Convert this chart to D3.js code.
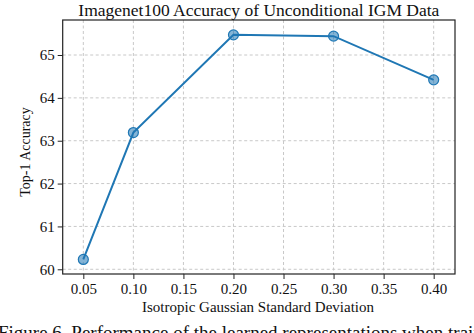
<!DOCTYPE html>
<html>
<head>
<meta charset="utf-8">
<script src="https://cdn.jsdelivr.net/npm/d3@7"></script>
<style>
  html, body { margin: 0; padding: 0; background: #fff; overflow: hidden; }
  svg { display: block; }
  text { font-family: "Liberation Serif", "DejaVu Serif", serif; fill: #111; }
</style>
</head>
<body>
<svg id="chart" width="474" height="333"></svg>
<script>
// Top-1 accuracy vs. noise std of isotropic Gaussian
const sigmas = [0.05, 0.10, 0.20, 0.30, 0.40];
const accuracy = [60.23, 63.19, 65.47, 65.44, 64.42];
const xTicks = [0.05, 0.10, 0.15, 0.20, 0.25, 0.30, 0.35, 0.40];
const yTicks = [60, 61, 62, 63, 64, 65];

const titleText = "Imagenet100 Accuracy of Unconditional IGM Data";
const xLabel = "Isotropic Gaussian Standard Deviation";
const yLabel = "Top-1 Accuracy";
const captionText = "Figure 6. Performance of the learned representations when trained on";

const W = 474, H = 333;
const plot = { left: 62.7, right: 455, top: 20, bottom: 274 };
const blue = "#1f77b4";

const svg = d3.select("#chart");

const x = d3.scaleLinear().domain([0.0294, 0.4213]).range([plot.left, plot.right]);
const y = d3.scaleLinear().domain([59.89, 65.817]).range([plot.bottom, plot.top]);

// grid
const grid = svg.append("g").attr("stroke", "#c8c8c8").attr("stroke-width", 1)
  .attr("stroke-dasharray", "3,2.5");
grid.selectAll("line.gx").data(xTicks).join("line")
  .attr("x1", d => x(d)).attr("x2", d => x(d))
  .attr("y1", plot.top).attr("y2", plot.bottom);
grid.selectAll("line.gy").data(yTicks).join("line")
  .attr("y1", d => y(d)).attr("y2", d => y(d))
  .attr("x1", plot.left).attr("x2", plot.right);

// axes
const xAxis = d3.axisBottom(x).tickValues(xTicks).tickFormat(d3.format(".2f"))
  .tickSize(5).tickPadding(4);
const yAxis = d3.axisLeft(y).tickValues(yTicks).tickFormat(d3.format("d"))
  .tickSize(5).tickPadding(3);

const gx = svg.append("g").attr("transform", `translate(0,${plot.bottom})`).call(xAxis);
const gy = svg.append("g").attr("transform", `translate(${plot.left},0)`).call(yAxis);
[gx, gy].forEach(g => {
  g.select(".domain").remove();
  g.selectAll(".tick line").attr("stroke", "#222").attr("stroke-width", 1);
  g.selectAll(".tick text").attr("font-size", 15)
    .style("font-family", "'Liberation Serif', serif").attr("fill", "#111");
});

// frame
svg.append("rect")
  .attr("x", plot.left).attr("y", plot.top)
  .attr("width", plot.right - plot.left).attr("height", plot.bottom - plot.top)
  .attr("fill", "none").attr("stroke", "#222").attr("stroke-width", 1.2);

// series
const pts = sigmas.map((s, i) => [s, accuracy[i]]);
svg.append("path")
  .datum(pts)
  .attr("fill", "none").attr("stroke", blue).attr("stroke-width", 2)
  .attr("d", d3.line().x(d => x(d[0])).y(d => y(d[1])));
svg.append("g").selectAll("circle").data(pts).join("circle")
  .attr("cx", d => x(d[0])).attr("cy", d => y(d[1])).attr("r", 5)
  .attr("fill", blue).attr("fill-opacity", 0.55)
  .attr("stroke", blue).attr("stroke-width", 1.2);

// labels
svg.append("text").attr("x", (plot.left + plot.right) / 2).attr("y", 15.5)
  .attr("text-anchor", "middle").attr("font-size", 17.5).text(titleText);
svg.append("text").attr("x", 258).attr("y", 312)
  .attr("text-anchor", "middle").attr("font-size", 15).text(xLabel);
svg.append("text")
  .attr("transform", `translate(30,152) rotate(-90)`)
  .attr("text-anchor", "middle").attr("font-size", 14).text(yLabel);
svg.append("text").attr("x", -2).attr("y", 339)
  .attr("font-size", 19).text(captionText);
</script>
</body>
</html>
